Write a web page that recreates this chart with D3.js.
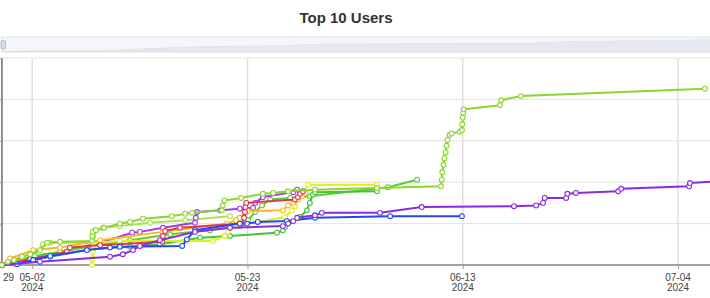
<!DOCTYPE html>
<html>
<head>
<meta charset="utf-8">
<script src="https://cdn.jsdelivr.net/npm/d3@7"></script>
<style>
  html, body { margin: 0; padding: 0; background: #fff; overflow: hidden; }
  svg { display: block; font-family: "Liberation Sans", Arial, Helvetica, sans-serif; }
</style>
</head>
<body>
<svg id="chart" width="710" height="298"></svg>
<script>
// cumulative counts per user, "MM-DD HH" (2024)
const user1 = [["04-29 01",0],["04-29 15",4],["04-30 05",6],["05-01 00",10],["05-01 19",13],["05-02 18",18],["05-03 11",27],["05-04 17",28],["05-07 20",29],["05-07 21",35],["05-07 22",40],["05-08 05",42],["05-09 00",45],["05-10 13",50],["05-11 13",52],["05-12 19",56],["05-15 15",59],["05-16 22",62],["05-17 14",63],["05-20 12",66],["05-20 14",72],["05-20 18",78],["05-22 09",81],["05-24 12",86],["05-25 12",87],["05-26 23",89],["05-29 14",91],["06-04 15",93],["06-10 21",95],["06-10 23",103],["06-11 00",112],["06-11 03",121],["06-11 05",129],["06-11 08",136],["06-11 10",144],["06-11 12",151],["06-11 17",157],["06-11 22",159],["06-12 17",161],["06-12 22",163],["06-12 23",170],["06-13 00",178],["06-13 01",184],["06-13 02",188],["06-16 15",193],["06-16 18",199],["06-18 16",204],["07-06 15",213]];
const user2 = [["04-29 01",0],["05-02 18",4],["05-09 14",10],["05-10 20",13],["05-11 20",18],["05-12 12",23],["05-14 11",30],["05-17 21",40],["05-21 07",45],["05-26 11",47],["05-26 23",50],["05-27 11",53],["05-27 20",57],["05-29 14",60],["05-30 06",63],["06-04 22",63],["06-09 00",70],["06-18 00",71],["06-20 04",72],["06-20 20",75],["06-21 00",81],["06-23 02",81],["06-23 05",86],["06-24 01",87],["06-28 04",89],["06-28 11",92],["07-05 02",95],["07-05 04",99],["07-09 00",102]];
const user3 = [["04-29 01",0],["04-30 12",1],["05-02 02",6],["05-03 18",11],["05-07 08",18],["05-09 14",21],["05-10 13",22],["05-16 15",23],["05-17 02",31],["05-17 21",42],["05-22 06",50],["05-22 23",50],["05-24 00",52],["05-26 20",53],["05-29 14",57],["06-05 22",59],["06-12 22",59]];
const user4 = [["04-29 01",0],["05-01 19",7],["05-05 09",16],["05-05 16",21],["05-08 15",24],["05-14 16",28],["05-14 18",35],["05-14 23",41],["05-16 10",45],["05-22 11",50],["05-22 16",57],["05-22 18",64],["05-22 19",70],["05-22 21",75],["05-27 15",79],["05-27 22",82],["05-28 03",86],["05-28 10",89]];
const user5 = [["04-29 01",0],["04-29 20",8],["05-02 02",18],["05-04 17",21],["05-08 15",30],["05-14 18",40],["05-21 00",50],["05-21 21",54],["05-22 06",57],["05-23 01",65],["05-26 11",66],["05-26 23",72],["05-27 11",75],["05-27 22",79],["05-28 08",83],["05-28 15",87]];
const user6 = [["05-07 20",0],["05-07 21",8],["05-07 22",16],["05-07 23",23],["05-08 00",27],["05-10 13",29],["05-17 02",29],["05-19 15",29],["05-20 19",35],["05-21 02",40],["05-21 19",47],["05-26 16",58],["05-27 08",66],["05-27 15",71],["05-27 22",79],["05-28 05",86],["05-28 22",97],["06-04 15",97]];
const user7 = [["04-29 01",0],["04-30 19",4],["05-03 18",10],["05-07 20",19],["05-11 13",22],["05-14 11",25],["05-18 09",33],["05-21 07",35],["05-25 21",39],["05-26 11",42],["05-26 16",46],["05-28 03",58],["05-28 19",66],["05-29 02",75],["05-29 09",85],["05-29 14",88],["06-04 15",89]];
const user8 = [["04-29 01",0],["04-30 08",4],["05-02 06",11],["05-04 17",16],["05-07 22",23],["05-11 13",30],["05-15 11",37],["05-19 08",42],["05-22 06",47],["05-23 01",54],["05-23 18",64],["05-24 10",72],["05-25 05",79],["05-27 04",81],["05-29 02",83],["06-05 17",94],["06-08 13",103]];
const user9 = [["04-29 01",0],["05-01 19",8],["05-03 06",11],["05-08 15",27],["05-11 18",39],["05-12 12",40],["05-14 18",45],["05-17 21",51],["05-17 23",57],["05-18 02",64],["05-20 08",66],["05-22 06",68],["05-23 13",69],["05-23 18",75],["05-24 12",82],["05-27 11",88],["05-27 20",91]];
const user10 = [["04-29 01",0],["04-29 20",2],["05-01 07",7],["05-02 02",10],["05-03 01",25],["05-03 18",27],["05-07 15",27],["05-07 23",35],["05-08 03",42],["05-08 22",45],["05-10 13",47],["05-13 12",51],["05-16 22",54],["05-21 07",59]];

const seriesNames = ["User 1","User 2","User 3","User 4","User 5","User 6","User 7","User 8","User 9","User 10"];
const seriesData = [user1, user2, user3, user4, user5, user6, user7, user8, user9, user10];
const colors = ["#8bd62e","#8a2be2","#2445f2","#e8344e","#ffb618","#dcef1f","#45c23b","#5ccf2c","#9440ee","#a6e356"];

const xTicks = ["2024-04-29","2024-05-02","2024-05-23","2024-06-13","2024-07-04"];
const yTicks = [0, 50, 100, 150, 200, 250];

const svg = d3.select("#chart");
const parse = d3.timeParse("%Y-%m-%d %H");
const parseDay = d3.timeParse("%Y-%m-%d");

const x = d3.scaleTime()
    .domain([parseDay("2024-04-29"), parseDay("2024-07-10")])
    .range([1.5, 1.5 + 72 * 10.25]);
const y = d3.scaleLinear().domain([0, 250]).range([265, 58]);

const series = seriesData.map((arr, i) => ({
    name: seriesNames[i],
    color: colors[i],
    values: arr.map(d => ({ date: parse("2024-" + d[0]), value: d[1] }))
}));

// title
svg.append("text")
    .attr("x", 346).attr("y", 23)
    .attr("text-anchor", "middle")
    .style("font-size", "15px").style("font-weight", "bold").style("fill", "#333")
    .text("Top 10 Users");

// data zoom slider, shadow drawn from a steady series
const sy = d3.scaleLinear().domain([0, 125]).range([51.5, 37]);
const slider = svg.append("g");
slider.append("rect")
    .attr("x", 1.5).attr("y", 37).attr("width", 740).attr("height", 15)
    .attr("fill", "#f4f6f9").attr("stroke", "#dde1e7");
slider.append("path")
    .datum(series[1].values)
    .attr("d", d3.area().curve(d3.curveBasis).x(d => x(d.date)).y0(51.5).y1(d => sy(d.value)))
    .attr("fill", "#e5e9ef").attr("stroke", "#d5dbe3").attr("stroke-width", 0.6);
slider.append("rect")
    .attr("x", 1).attr("y", 40.5).attr("width", 4.5).attr("height", 8.5).attr("rx", 1)
    .attr("fill", "#d3dcee").attr("stroke", "#a8b6cf").attr("stroke-width", 0.8);

// grid
svg.append("g").selectAll("line")
    .data(yTicks)
    .join("line")
    .attr("x1", 1.5).attr("x2", 720)
    .attr("y1", d => y(d)).attr("y2", d => y(d))
    .attr("stroke", "#e3e3e3").attr("stroke-width", 1);

svg.append("g").selectAll("line")
    .data(xTicks.map(parseDay))
    .join("line")
    .attr("x1", d => x(d)).attr("x2", d => x(d))
    .attr("y1", 58).attr("y2", 265)
    .attr("stroke", "#e0e0e0").attr("stroke-width", 1.5);

// axes
const xAxis = svg.append("g")
    .attr("transform", "translate(0,265)")
    .call(d3.axisBottom(x).tickValues(xTicks.map(parseDay)).tickSize(4).tickSizeOuter(0).tickFormat(""));
xAxis.select(".domain").attr("stroke", "#555").attr("stroke-width", 1.2).attr("d", "M1.5,0H720");
xAxis.selectAll(".tick line").attr("stroke", "#999");

const labels = svg.append("g").selectAll("text")
    .data(xTicks.map(parseDay))
    .join("text")
    .attr("text-anchor", (d, i) => i === 0 ? "start" : "middle")
    .style("font-size", "10px").style("fill", "#444");
labels.append("tspan")
    .attr("x", (d, i) => i === 0 ? 3 : x(d)).attr("y", 280.5)
    .text((d, i) => i === 0 ? d3.timeFormat("%d")(d) : d3.timeFormat("%m-%d")(d));
labels.filter((d, i) => i > 0).append("tspan")
    .attr("x", d => x(d)).attr("y", 290.5)
    .text(d3.timeFormat("%Y"));

// y axis (its labels sit off the left edge in the reference)
const yAxis = svg.append("g")
    .attr("transform", "translate(1.5,0)")
    .call(d3.axisLeft(y).tickValues(yTicks).tickSize(4).tickSizeOuter(0).tickFormat(""));
yAxis.select(".domain").attr("stroke", "#555").attr("stroke-width", 1.2);
yAxis.selectAll(".tick line").attr("stroke", "#999");

// lines
const line = d3.line().x(d => x(d.date)).y(d => y(d.value));
const plot = svg.append("g");
const groups = plot.selectAll(".series")
    .data(series.slice().reverse())
    .join("g")
    .attr("class", "series");

groups.append("path")
    .attr("d", d => line(d.values))
    .attr("fill", "none")
    .attr("stroke", d => d.color)
    .attr("stroke-width", 2)
    .attr("stroke-linejoin", "round");

groups.selectAll("circle")
    .data(d => d.values.map(v => ({ ...v, color: d.color })))
    .join("circle")
    .attr("cx", d => x(d.date))
    .attr("cy", d => y(d.value))
    .attr("r", 2.4)
    .attr("fill", "#fff")
    .attr("stroke", d => d.color)
    .attr("stroke-width", 1.1);
</script>
</body>
</html>
